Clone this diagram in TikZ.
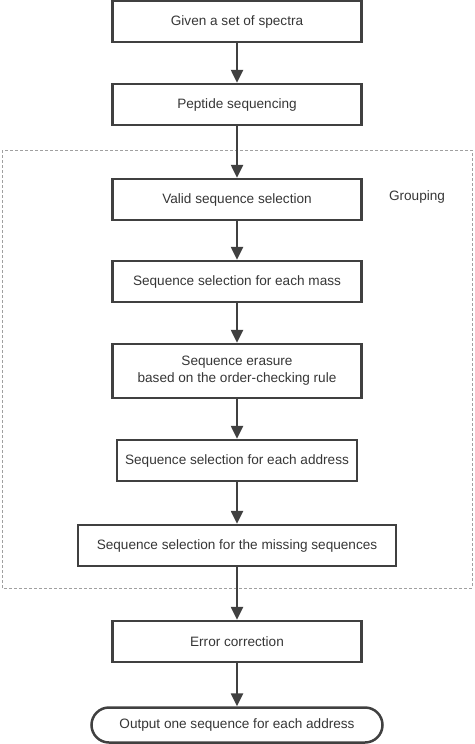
\documentclass[tikz,border=0pt]{standalone}
\usepackage{fontspec}
\setmainfont{Liberation Sans}
\usetikzlibrary{arrows.meta}
\definecolor{ink}{HTML}{404040}
\definecolor{grayline}{HTML}{A0A0A0}
\begin{document}
\begin{tikzpicture}[x=1pt,y=-1pt,
  stepbox/.style={draw=ink,line width=2.5pt,minimum height=41pt,align=center,font=\fontsize{13.6}{17}\selectfont,text=ink!85!black},
  flow/.style={draw=ink,line width=2.5pt,-{Triangle[length=13pt,width=12pt]}}]
\useasboundingbox (0,0) rectangle (474,744);
\node[stepbox,minimum width=249pt] (a) at (237,21.5) {Given a set of spectra};
\node[stepbox,minimum width=249pt] (b) at (237,104.5) {Peptide sequencing};
\node[stepbox,minimum width=249pt] (c) at (237,199.5) {Valid sequence selection};
\node[stepbox,minimum width=249pt] (d) at (237,281.5) {Sequence selection for each mass};
\node[stepbox,minimum width=249pt,minimum height=54pt] (e) at (237,371) {Sequence erasure\\based on the order-checking rule};
\node[stepbox,minimum width=240pt] (f) at (237,460.5) {Sequence selection for each address};
\node[stepbox,minimum width=318pt] (g) at (237,545.5) {Sequence selection for the missing sequences};
\node[stepbox,minimum width=249pt] (h) at (237,641.5) {Error correction};
\node[stepbox,minimum width=291pt,minimum height=35pt,rounded corners=17.5pt] (i) at (237,725) {Output one sequence for each address};
\draw[draw=grayline,dash pattern=on 3pt off 2pt,line width=0.8pt] (2,150) rectangle (472,588);
\node[font=\fontsize{13.6}{17}\selectfont,text=ink!85!black] (grp) at (417,197) {Grouping};
\draw[flow] (a) -- (b);
\draw[flow] (b) -- (c);
\draw[flow] (c) -- (d);
\draw[flow] (d) -- (e);
\draw[flow] (e) -- (f);
\draw[flow] (f) -- (g);
\draw[flow] (g) -- (h);
\draw[flow] (h) -- (i);
\end{tikzpicture}
\end{document}
